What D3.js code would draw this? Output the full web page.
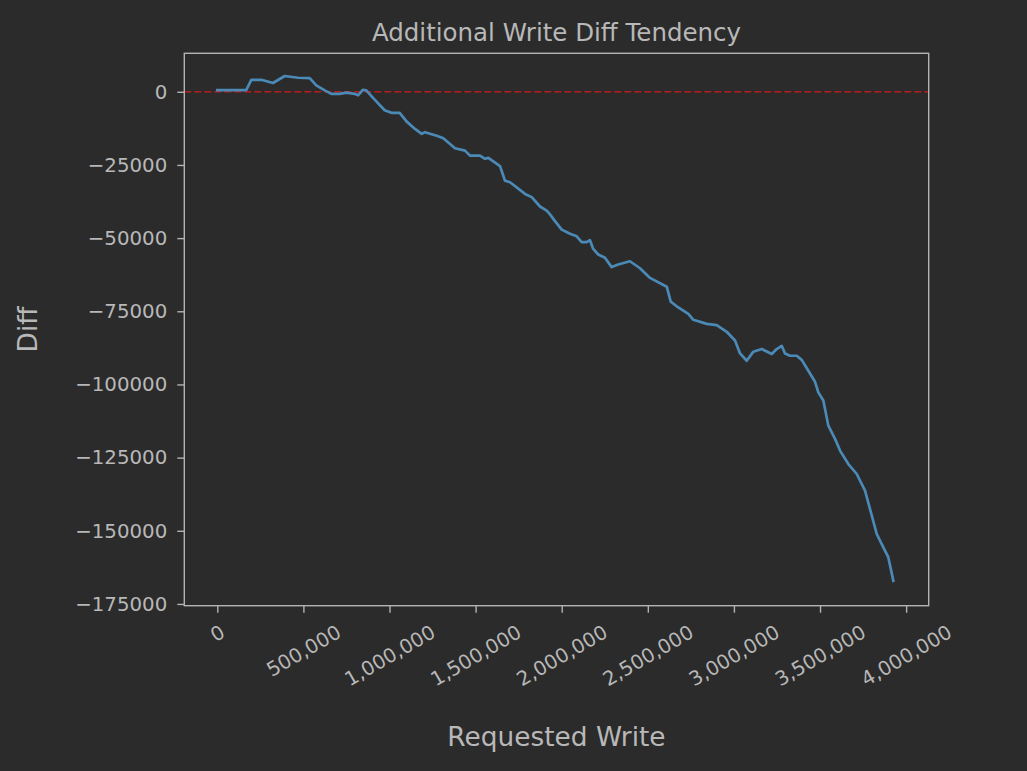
<!DOCTYPE html>
<html>
<head>
<meta charset="utf-8">
<script src="https://cdn.jsdelivr.net/npm/d3@7"></script>
<style>
  html, body { margin: 0; padding: 0; background: #2b2b2b; }
  svg { display: block; }
  text { font-family: "DejaVu Sans", sans-serif; }
</style>
</head>
<body>
<svg id="chart" width="1027" height="771"></svg>
<script>
// ---- data ----
const requestedWrite = [0, 168400, 197400, 255500, 323500, 391400, 468600, 536600, 574900, 623700,
  662000, 710800, 749100, 797900, 817100, 846100, 865300, 904200, 972100, 1010500,
  1059200, 1099900, 1148100, 1187000, 1206200, 1274100, 1312400, 1380400, 1438400, 1467500,
  1525600, 1554600, 1573800, 1641700, 1670800, 1699800, 1786900, 1825800, 1874000, 1912900,
  1932000, 1961000, 2000000, 2048000, 2087000, 2116000, 2145000, 2164000, 2183000, 2212000,
  2251000, 2290000, 2328000, 2396000, 2454700, 2512800, 2609800, 2633000, 2667800, 2735200,
  2764200, 2842100, 2900100, 2958200, 3006400, 3035500, 3074300, 3112700, 3161400, 3219500,
  3248500, 3277600, 3296700, 3325700, 3364700, 3393700, 3432100, 3471000, 3490100, 3519200,
  3548200, 3587100, 3616200, 3664400, 3713200, 3761300, 3790400, 3829300, 3867600, 3896700,
  3925700];
const diffValues = [600, 600, 4100, 4100, 3000, 5400, 4800, 4700, 2200, 500,
  -700, -700, -300, -700, -1200, 700, 500, -2100, -6300, -7200,
  -7200, -10200, -12700, -14400, -13800, -15000, -15900, -19300, -20100, -21800,
  -21800, -22900, -22600, -25400, -30400, -30900, -34900, -36000, -39200, -40600,
  -41900, -44200, -47100, -48500, -49400, -51400, -51400, -50700, -53700, -55600,
  -56700, -59900, -59000, -57900, -60300, -63600, -66600, -71700, -73300, -75900,
  -77900, -79300, -79700, -82000, -85000, -89400, -91900, -88800, -87900, -89600,
  -87900, -86800, -89400, -90200, -90200, -91600, -95300, -99100, -102700, -105500,
  -114100, -118600, -122600, -127200, -130600, -136300, -142600, -151100, -155700, -159100,
  -167100];
const xTickValues = [0, 500000, 1000000, 1500000, 2000000, 2500000, 3000000, 3500000, 4000000];
const yTickValues = [0, -25000, -50000, -75000, -100000, -125000, -150000, -175000];
const titleText = "Additional Write Diff Tendency";
const xLabelText = "Requested Write";
const yLabelText = "Diff";

// ---- layout ----
const W = 1027, H = 771;
const plot = { left: 184.3, right: 928.7, top: 53.3, bottom: 605.7 };
const bg = "#2b2b2b", fg = "#b3b3b3", textColor = "#b8b8b8";

const svg = d3.select("#chart");
svg.append("rect").attr("width", W).attr("height", H).attr("fill", bg);

const x = d3.scaleLinear().domain([-191600, 4131000]).range([plot.left, plot.right]);
const y = d3.scaleLinear().domain([-175600, 13150]).range([plot.bottom, plot.top]);

// zero reference line
svg.append("line")
  .attr("x1", plot.left).attr("x2", plot.right)
  .attr("y1", y(0)).attr("y2", y(0))
  .attr("stroke", "rgba(235,25,25,0.72)")
  .attr("stroke-width", 1.5)
  .attr("stroke-dasharray", "7,3");

// data line
const data = requestedWrite.map((v, i) => [v, diffValues[i]]);
svg.append("path")
  .datum(data)
  .attr("fill", "none")
  .attr("stroke", "#4b8ab6")
  .attr("stroke-width", 2.7)
  .attr("stroke-linejoin", "round")
  .attr("stroke-linecap", "square")
  .attr("d", d3.line().x(d => x(d[0])).y(d => y(d[1])));

// frame
svg.append("rect")
  .attr("x", plot.left).attr("y", plot.top)
  .attr("width", plot.right - plot.left).attr("height", plot.bottom - plot.top)
  .attr("fill", "none").attr("stroke", fg).attr("stroke-width", 1.4);

// y axis
const yAxis = d3.axisLeft(y).tickValues(yTickValues).tickSize(7).tickPadding(10)
  .tickFormat(d => d3.format("d")(d).replace("-", "\u2212"));
const gy = svg.append("g").attr("transform", `translate(${plot.left},0)`).call(yAxis);
gy.select(".domain").remove();
gy.selectAll(".tick line").attr("stroke", fg).attr("stroke-width", 1.4);
gy.selectAll(".tick text").attr("fill", textColor).attr("font-size", 19.8)
  .attr("font-family", "DejaVu Sans");

// x axis
const xAxis = d3.axisBottom(x).tickValues(xTickValues).tickSize(7)
  .tickFormat(d3.format(","));
const gx = svg.append("g").attr("transform", `translate(0,${plot.bottom})`).call(xAxis);
gx.select(".domain").remove();
gx.selectAll(".tick line").attr("stroke", fg).attr("stroke-width", 1.4);
const fs = 19.8;
gx.selectAll(".tick text")
  .attr("fill", textColor).attr("font-size", fs).attr("font-family", "DejaVu Sans")
  .attr("text-anchor", "middle")
  .attr("dominant-baseline", "central")
  .attr("dy", null)
  .each(function() {
    const w = this.getComputedTextLength();
    const h = fs * 1.164;
    const bh = w * 0.5 + h * 0.866;
    const cy = 7 + 8 + bh / 2;
    d3.select(this).attr("y", 0).attr("x", 0)
      .attr("transform", `translate(0,${cy}) rotate(-30)`);
  });

// title and labels
svg.append("text")
  .attr("x", (plot.left + plot.right) / 2).attr("y", 40.5)
  .attr("text-anchor", "middle").attr("fill", textColor)
  .attr("font-size", 24.5).text(titleText);

svg.append("text")
  .attr("x", (plot.left + plot.right) / 2).attr("y", 746)
  .attr("text-anchor", "middle").attr("fill", textColor)
  .attr("font-size", 26.4).text(xLabelText);

svg.append("text")
  .attr("transform", `translate(36.5,${(plot.top + plot.bottom) / 2}) rotate(-90)`)
  .attr("text-anchor", "middle").attr("fill", textColor)
  .attr("font-size", 26.4).text(yLabelText);
</script>
</body>
</html>
